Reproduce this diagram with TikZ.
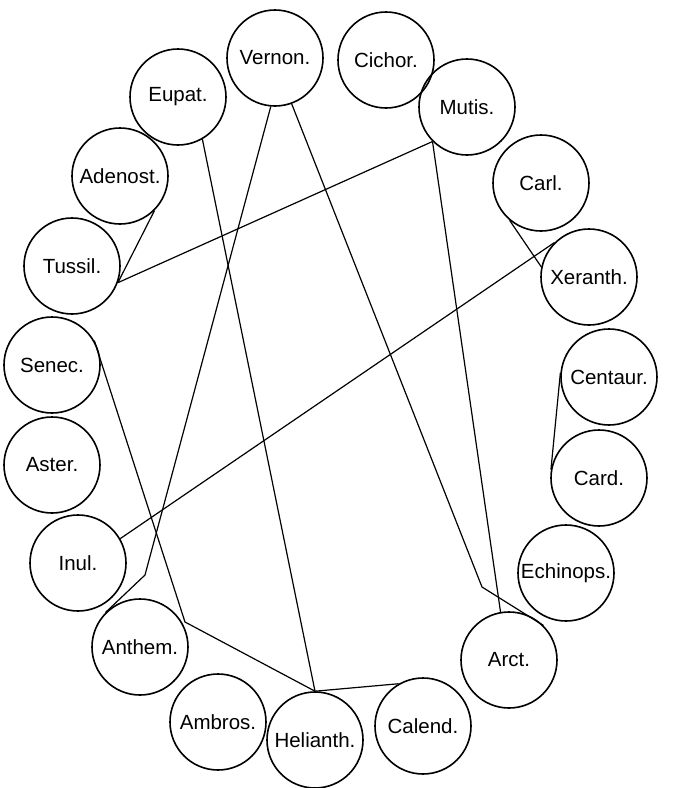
\documentclass[tikz,border=0pt]{standalone}
\usepackage{fontspec}
\setmainfont{Liberation Sans}
\begin{document}
\begin{tikzpicture}[x=1pt,y=-1pt,
  tx/.style={circle,draw,line width=1.6pt,minimum size=96pt,inner sep=0pt,font=\fontsize{20.5}{23}\selectfont},
  ed/.style={line width=1.2pt}]
\useasboundingbox (0,0) rectangle (679,788);
\node[tx] (vernon) at (275,58) {Vernon.};
\node[tx] (cichor) at (386,60) {Cichor.};
\node[tx] (mutis) at (467,107) {Mutis.};
\node[tx] (eupat) at (178,97) {Eupat.};
\node[tx] (carl) at (541,183) {Carl.};
\node[tx] (adenost) at (120,176) {Adenost.};
\node[tx] (xeranth) at (589,277) {Xeranth.};
\node[tx] (tussil) at (72,266) {Tussil.};
\node[tx] (centaur) at (609,377) {Centaur.};
\node[tx] (senec) at (52,365) {Senec.};
\node[tx] (card) at (599,478) {Card.};
\node[tx] (aster) at (52,465) {Aster.};
\node[tx] (echinops) at (566,573) {Echinops.};
\node[tx] (inul) at (78,563) {Inul.};
\node[tx] (arct) at (509,660) {Arct.};
\node[tx] (anthem) at (140,647) {Anthem.};
\node[tx] (calend) at (423,726) {Calend.};
\node[tx] (ambros) at (218,722) {Ambros.};
\node[tx] (helianth) at (315,740) {Helianth.};
\coordinate (b1) at (145,575);
\coordinate (b2) at (185,622);
\coordinate (b3) at (482,587);
\draw[ed] (adenost.-45) -- (tussil.-20);
\draw[ed] (mutis.-135) -- (tussil.-20);
\draw[ed] (vernon.-95) -- (b1) -- (anthem.north west);
\draw[ed] (vernon.-70) -- (b3) -- (arct.north east);
\draw[ed] (eupat.-60) -- (helianth.north);
\draw[ed] (mutis.-135) -- (arct.100);
\draw[ed] (carl.-130) -- (xeranth.168);
\draw[ed] (xeranth.135) -- (inul.30);
\draw[ed] (centaur.175) -- (card.170);
\draw[ed] (senec.30) -- (b2) -- (helianth.north);
\draw[ed] (helianth.north) -- (calend.120);
\end{tikzpicture}
\end{document}
